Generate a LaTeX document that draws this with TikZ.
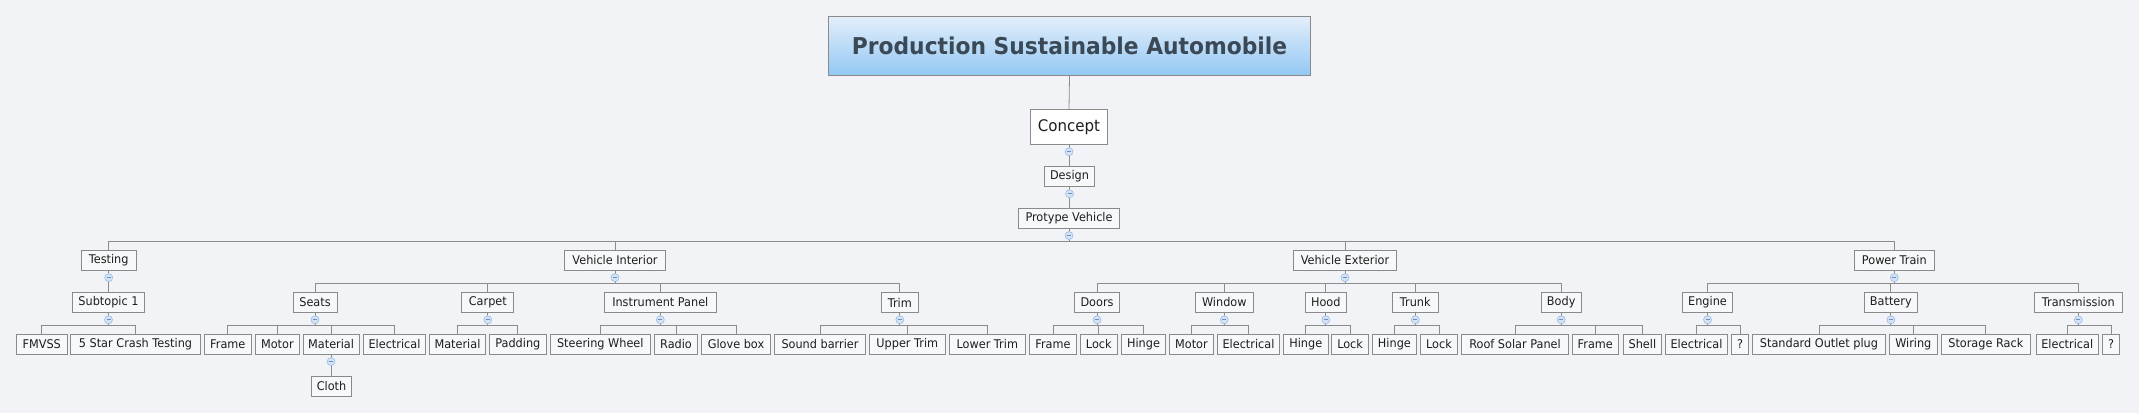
\documentclass[tikz,border=0pt]{standalone}
\usepackage{fontspec}
\setmainfont{DejaVu Sans}[FakeStretch=0.94]
\definecolor{bgc}{HTML}{F2F3F7}
\definecolor{boxc}{HTML}{F7F8FA}
\definecolor{bordc}{HTML}{8A8A8A}
\definecolor{linec}{HTML}{8C8C8C}
\definecolor{txtc}{HTML}{1E1E1E}
\definecolor{ttlc}{HTML}{3B4856}
\definecolor{cfill}{HTML}{D3E3F6}
\definecolor{cbord}{HTML}{9DBBE2}
\definecolor{cminus}{HTML}{6F8FC4}
\tikzset{
  boxnode/.style={draw=bordc, fill=boxc, inner sep=0pt, minimum height=19.8bp, text=txtc,
    line width=0.8bp, font=\fontsize{12bp}{14bp}\selectfont},
  conn/.style={draw=linec, line width=0.8bp},
  collapse/.style={circle, draw=cbord, fill=cfill, minimum size=8bp, inner sep=0pt, line width=0.6bp,
    path picture={\draw[cminus, line width=0.7bp] ([xshift=-2bp]path picture bounding box.center) -- ([xshift=2bp]path picture bounding box.center);}}
}
\newcommand\mkbox[5]{\node[boxnode, minimum width=#4bp] (#1) at (#2,#3) {#5};}
\newcommand\lnk[2]{\draw[conn] (#1.south) -- ++(0,13) -| (#2.north);}
\newcommand\clp[1]{\node[collapse] (#1-clp) at ([yshift=-7bp]#1.south) {};}
\begin{document}
\begin{tikzpicture}[x=1bp,y=-1bp]
\fill[bgc] (0,0) rectangle (2139,413);
\useasboundingbox (0,0) rectangle (2139,413);
% title and spine
\node[draw=bordc, line width=0.8bp, top color=cfill!60!white, bottom color={rgb,255:red,146;green,200;blue,244},
  minimum width=482.5bp, minimum height=59.3bp, inner sep=0pt, text=ttlc,
  font=\fontsize{23.2bp}{26bp}\selectfont\bfseries] (title) at (1069.5,45.7) {Production Sustainable Automobile};
\node[draw=bordc, fill=white, line width=0.8bp, minimum width=76.8bp, minimum height=35bp, inner sep=0pt,
  text=txtc, font=\fontsize{16bp}{19bp}\selectfont] (concept) at (1069,126.8) {Concept};
\mkbox{design}{1069.5}{176.5}{50.3}{Design}
\mkbox{proto}{1069}{218.3}{101.3}{Protype Vehicle}
% level 1
\mkbox{testing}{108.7}{260.3}{54.7}{Testing}
\mkbox{vint}{615}{260.3}{101.3}{Vehicle Interior}
\mkbox{vext}{1345}{260.3}{103.2}{Vehicle Exterior}
\mkbox{ptrain}{1894.3}{260.3}{80.7}{Power Train}
% level 2
\mkbox{sub1}{108.5}{302.5}{72.3}{Subtopic 1}
\mkbox{seats}{315}{302.5}{43.8}{Seats}
\mkbox{carpet}{487.8}{302.5}{52}{Carpet}
\mkbox{ipanel}{660.3}{302.5}{112}{Instrument Panel}
\mkbox{trim}{899.8}{302.5}{37.2}{Trim}
\mkbox{doors}{1097}{302.5}{45.5}{Doors}
\mkbox{window}{1224.3}{302.5}{58.1}{Window}
\mkbox{hood}{1325.8}{302.5}{41.1}{Hood}
\mkbox{trunk}{1415.3}{302.5}{45.5}{Trunk}
\mkbox{body}{1561.2}{302.5}{40}{Body}
\mkbox{engine}{1707.5}{302.5}{50.4}{Engine}
\mkbox{battery}{1890.8}{302.5}{53}{Battery}
\mkbox{transm}{2078.3}{302.5}{88}{Transmission}
% level 3
\mkbox{fmvss}{41.7}{344.3}{50.9}{FMVSS}
\mkbox{crash}{135.5}{344.3}{130.6}{5 Star Crash Testing}
\mkbox{sframe}{227.8}{344.3}{47.2}{Frame}
\mkbox{smotor}{277.4}{344.3}{44.4}{Motor}
\mkbox{smat}{331.1}{344.3}{56.2}{Material}
\mkbox{selec}{394.5}{344.3}{62.3}{Electrical}
\mkbox{cmat}{457.5}{344.3}{56.1}{Material}
\mkbox{cpad}{517.8}{344.3}{56.9}{Padding}
\mkbox{steer}{600.3}{344.3}{99.9}{Steering Wheel}
\mkbox{radio}{676}{344.3}{43.4}{Radio}
\mkbox{glove}{736}{344.3}{68.9}{Glove box}
\mkbox{sound}{820}{344.3}{90.9}{Sound barrier}
\mkbox{utrim}{907.3}{344.3}{76.1}{Upper Trim}
\mkbox{ltrim}{987.3}{344.3}{75.8}{Lower Trim}
\mkbox{dframe}{1053}{344.3}{47.4}{Frame}
\mkbox{dlock}{1098.8}{344.3}{37.2}{Lock}
\mkbox{dhinge}{1143.5}{344.3}{43.5}{Hinge}
\mkbox{wmotor}{1191.4}{344.3}{43.5}{Motor}
\mkbox{welec}{1248.5}{344.3}{62.1}{Electrical}
\mkbox{hhinge}{1305.8}{344.3}{44.6}{Hinge}
\mkbox{hlock}{1350.1}{344.3}{36.8}{Lock}
\mkbox{thinge}{1394.4}{344.3}{43.9}{Hinge}
\mkbox{tlock}{1438.9}{344.3}{36.3}{Lock}
\mkbox{roof}{1515}{344.3}{107.2}{Roof Solar Panel}
\mkbox{bframe}{1595.3}{344.3}{45.5}{Frame}
\mkbox{shell}{1642.4}{344.3}{38.6}{Shell}
\mkbox{eelec}{1696.5}{344.3}{62.4}{Electrical}
\mkbox{eq}{1740}{344.3}{17.4}{?}
\mkbox{plug}{1819}{344.3}{133.4}{Standard Outlet plug}
\mkbox{wiring}{1913.3}{344.3}{48}{Wiring}
\mkbox{rack}{1985.8}{344.3}{89}{Storage Rack}
\mkbox{telec}{2067.2}{344.3}{62.3}{Electrical}
\mkbox{tq}{2111}{344.3}{17.4}{?}
% level 4
\mkbox{cloth}{331.5}{386.2}{40.3}{Cloth}
% connectors
\draw[conn] (title.south) -- (concept.north);
\lnk{concept}{design}
\lnk{design}{proto}
\foreach \c in {testing,vint,vext,ptrain} {\lnk{proto}{\c}}
\lnk{testing}{sub1}
\foreach \c in {seats,carpet,ipanel,trim} {\lnk{vint}{\c}}
\foreach \c in {doors,window,hood,trunk,body} {\lnk{vext}{\c}}
\foreach \c in {engine,battery,transm} {\lnk{ptrain}{\c}}
\foreach \c in {fmvss,crash} {\lnk{sub1}{\c}}
\foreach \c in {sframe,smotor,smat,selec} {\lnk{seats}{\c}}
\foreach \c in {cmat,cpad} {\lnk{carpet}{\c}}
\foreach \c in {steer,radio,glove} {\lnk{ipanel}{\c}}
\foreach \c in {sound,utrim,ltrim} {\lnk{trim}{\c}}
\foreach \c in {dframe,dlock,dhinge} {\lnk{doors}{\c}}
\foreach \c in {wmotor,welec} {\lnk{window}{\c}}
\foreach \c in {hhinge,hlock} {\lnk{hood}{\c}}
\foreach \c in {thinge,tlock} {\lnk{trunk}{\c}}
\foreach \c in {roof,bframe,shell} {\lnk{body}{\c}}
\foreach \c in {eelec,eq} {\lnk{engine}{\c}}
\foreach \c in {plug,wiring,rack} {\lnk{battery}{\c}}
\foreach \c in {telec,tq} {\lnk{transm}{\c}}
\lnk{smat}{cloth}
% collapse markers
\foreach \p in {concept,design,proto,testing,vint,vext,ptrain,sub1,seats,carpet,ipanel,trim,
  doors,window,hood,trunk,body,engine,battery,transm,smat} {\clp{\p}}
\end{tikzpicture}
\end{document}
